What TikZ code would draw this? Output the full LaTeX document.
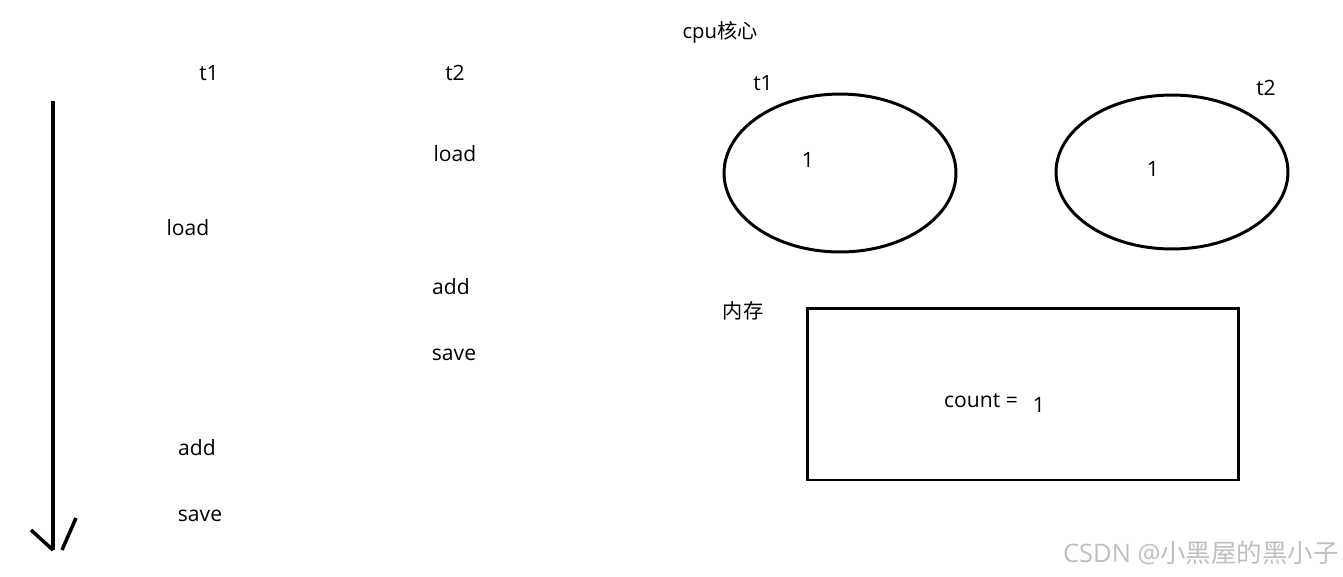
\documentclass[tikz,border=0pt]{standalone}
\usepackage{fontspec}
\setmainfont{Open Sans}
\newfontfamily\cjk{Noto Sans CJK SC}
\usetikzlibrary{calc,shapes.geometric}
\tikzset{
	lbl/.style={inner sep=0pt, font=\fontsize{12}{14}\selectfont},
	core/.style={draw, ellipse, line width=1.7pt, inner sep=0pt},
	mem/.style={draw, rectangle, line width=1.7pt, inner sep=0pt},
}

\begin{document}
\begin{tikzpicture}[x=0.02cm, y=-0.02cm]
			%%%%% START %%%%%
			\useasboundingbox (0, 0) rectangle (1343, 576);
			
			% time axis
			\coordinate (top) at (53, 101);
			\coordinate (tip) at (53, 550);
			\draw[line width=2.1pt] (top) -- (tip);
			\draw[line width=2pt] (tip) -- ++(-22, -20);
			\draw[line width=2pt] ($(tip)+(9, 0)$) -- ++(14, -32);
			
			% thread columns
			\node[lbl] (h1) at (209, 73) {t1};
			\node[lbl] (h2) at (455, 73) {t2};
			
			\node[lbl] (loadb) at (455, 154) {load};
			\node[lbl] (loada) at (188, 228) {load};
			\node[lbl] (addb) at (451, 287) {add};
			\node[lbl] (saveb) at (454, 355) {save};
			\node[lbl] (adda) at (197, 448) {add};
			\node[lbl] (savea) at (200, 516) {save};
			
			% cpu cores
			\node[lbl, font=\fontsize{11.5}{14}\selectfont] (cpu) at (720, 32) {cpu\cjk 核心};
			\node[lbl] (c1) at (763, 83) {t1};
			\node[lbl] (c2) at (1266, 88) {t2};
			\node[core, minimum width=4.64cm, minimum height=3.16cm] (core1) at (840, 173) {};
			\node[core, minimum width=4.64cm, minimum height=3.08cm] (core2) at (1172, 172) {};
			\node[lbl] (v1) at (808, 160) {1};
			\node[lbl] (v2) at (1153, 169) {1};
			
			% memory
			\node[lbl, font=\fontsize{11.5}{14}\selectfont] (ram) at (743, 311) {\cjk 内存};
			\node[mem, minimum width=8.64cm, minimum height=3.44cm] (box) at (1023, 394) {};
			\node[lbl] (cnt) at (981, 401) {count =};
			\node[lbl] (cntv) at (1039, 405) {1};
			
			\node[lbl, text=black!25, font=\fontsize{14.5}{17}\selectfont] (wm) at (1201, 553) {CSDN @\cjk 小黑屋的黑小子};
			
			%%%%% END %%%%%
		\end{tikzpicture}
\end{document}
